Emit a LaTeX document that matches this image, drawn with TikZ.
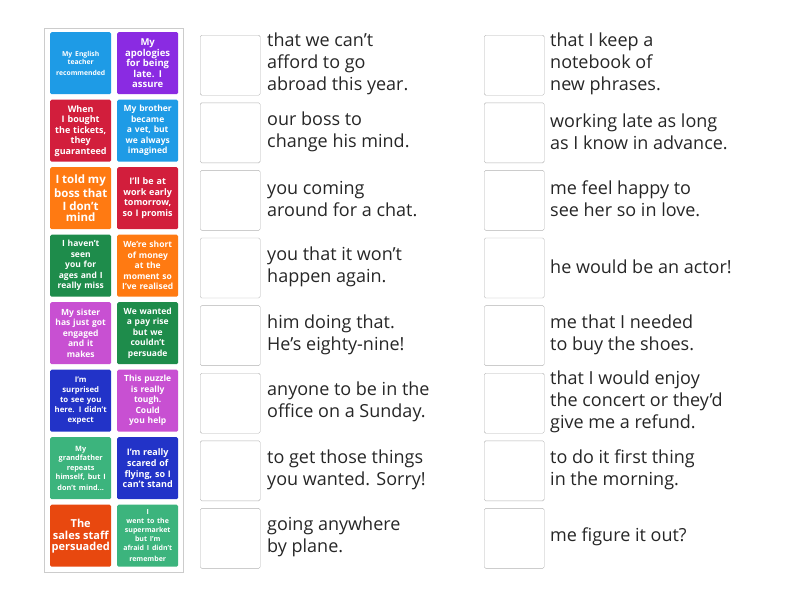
\documentclass[tikz,border=0pt]{standalone}
\usepackage{fontspec}
\setmainfont{Open Sans}
\definecolor{cBlue}{HTML}{1E9BE6}
\definecolor{cPurple}{HTML}{8A2BE2}
\definecolor{cRed}{HTML}{D21E3C}
\definecolor{cOrange}{HTML}{FF7A12}
\definecolor{cGreen}{HTML}{1E8C4B}
\definecolor{cMag}{HTML}{C850D2}
\definecolor{cDBlue}{HTML}{2233C8}
\definecolor{cTeal}{HTML}{3CB47D}
\definecolor{cOrRed}{HTML}{E8480F}
\tikzset{
 tile/.style={fill=#1,rounded corners=1.5pt,minimum width=61pt,minimum height=62pt,text width=60pt,align=center,text=white,font=\bfseries\fontsize{8.5}{10.5}\selectfont,inner sep=0.5pt,anchor=north west},
 slot/.style={draw=gray!60,fill=white,rounded corners=1.5pt,minimum width=60pt,minimum height=60pt,anchor=north west,inner sep=0pt},
 ans/.style={anchor=west,align=left,font=\fontsize{18}{22}\selectfont,text=black!85,inner sep=0pt}
}
\begin{document}
\begin{tikzpicture}[x=1pt,y=-1pt]
\useasboundingbox (0,0) rectangle (800,600);
\node[draw=gray!40,fill=white,minimum width=139pt,minimum height=544pt,anchor=north west,inner sep=0pt] (panel) at (44,28) {};
\def\tf#1#2{\fontsize{#1}{#2}\selectfont}
\node[tile=cBlue] (t1) at (50,32) {\tf{6.8}{8.5}My English\\teacher\\recommended};
\node[tile=cPurple] (t2) at (117,32) {\tf{9.5}{10.5}My\\apologies\\for being\\late. I\\assure};
\node[tile=cRed] (t3) at (50,99.5) {\tf{9}{10.5}When\\I bought\\the tickets,\\they\\guaranteed};
\node[tile=cBlue] (t4) at (117,99.5) {\tf{8.5}{10.5}My brother\\became\\a vet, but\\we always\\imagined};
\node[tile=cOrange] (t5) at (50,167) {\tf{11.5}{13.5}I told my\\boss that\\I don't\\mind};
\node[tile=cRed] (t6) at (117,167) {\tf{9}{10.5}I'll be at\\work early\\tomorrow,\\so I promis};
\node[tile=cGreen] (t7) at (50,234.5) {\tf{8.5}{10.5}I haven't\\seen\\you for\\ages and I\\really miss};
\node[tile=cOrange] (t8) at (117,234.5) {\tf{8.5}{10.5}We're short\\of money\\at the\\moment so\\I've realised};
\node[tile=cMag] (t9) at (50,302) {\tf{8.5}{10.5}My sister\\has just got\\engaged\\and it\\makes};
\node[tile=cGreen] (t10) at (117,302) {\tf{8.5}{10.5}We wanted\\a pay rise\\but we\\couldn't\\persuade};
\node[tile=cDBlue] (t11) at (50,369.5) {\tf{7.8}{10}I'm\\surprised\\to see you\\here. I didn't\\expect};
\node[tile=cMag] (t12) at (117,369.5) {\tf{8.5}{10.5}This puzzle\\is really\\tough.\\Could\\you help};
\node[tile=cTeal] (t13) at (50,437) {\tf{7.3}{9.5}My\\grandfather\\repeats\\himself, but I\\don't mind...};
\node[tile=cDBlue] (t14) at (117,437) {\tf{9}{11}I'm really\\scared of\\flying, so I\\can't stand};
\node[tile=cOrRed] (t15) at (50,504.5) {\tf{11}{12.5}The\\sales staff\\persuaded};
\node[tile=cTeal] (t16) at (117,504.5) {\tf{7}{9}I\\went to the\\supermarket\\but I'm\\afraid I didn't\\remember};
\foreach \i/\tl [count=\k from 0] in {
 {that we can't\\afford to go\\abroad this year.}/{that I keep a\\notebook of\\new phrases.},
 {our boss to\\change his mind.}/{working late as long\\as I know in advance.},
 {you coming\\around for a chat.}/{me feel happy to\\see her so in love.},
 {you that it won't\\happen again.}/{he would be an actor!},
 {him doing that.\\He's eighty-nine!}/{me that I needed\\to buy the shoes.},
 {anyone to be in the\\office on a Sunday.}/{that I would enjoy\\the concert or they'd\\give me a refund.},
 {to get those things\\you wanted. Sorry!}/{to do it first thing\\in the morning.},
 {going anywhere\\by plane.}/{me figure it out?}} {
 \node[slot] (sl\k) at (200,{35+67.6*\k}) {};
 \node[ans] (al\k) at (267,{64+67.6*\k}) {\i};
 \node[slot] (sr\k) at (484,{35+67.6*\k}) {};
 \node[ans] (ar\k) at (550,{64+67.6*\k}) {\tl};
}
\end{tikzpicture}
\end{document}
